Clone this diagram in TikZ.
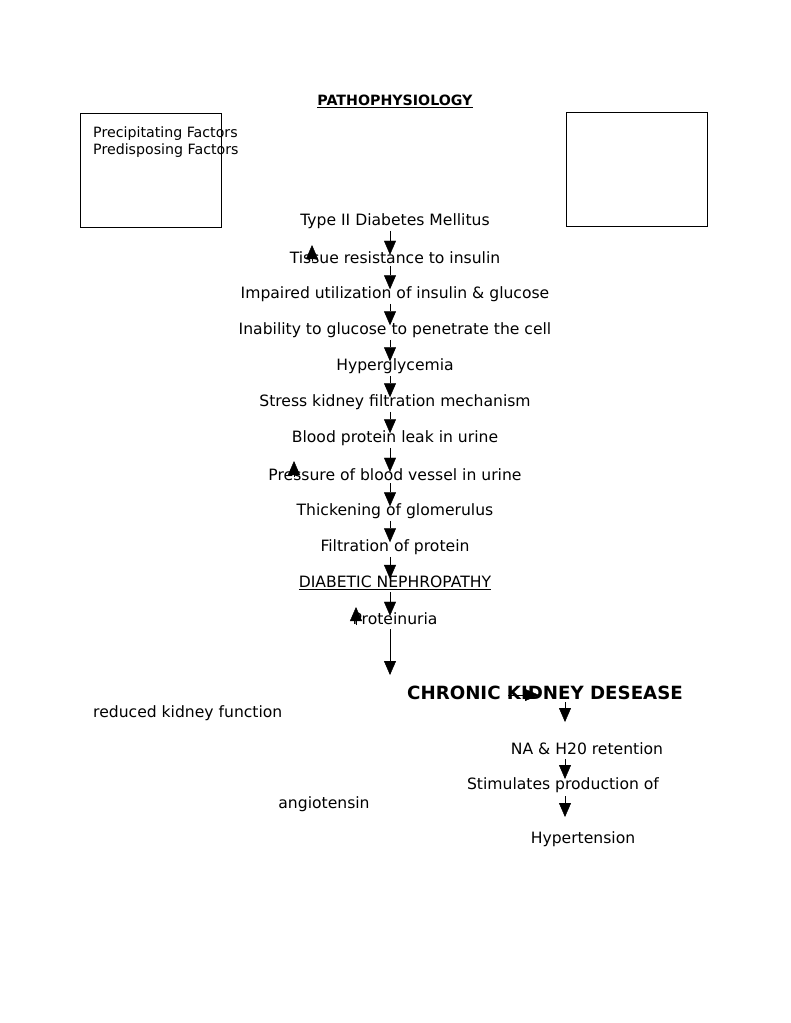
\documentclass[tikz,border=0pt]{standalone}
\usepackage{fontspec}
\setmainfont{DejaVu Sans}
\usetikzlibrary{arrows.meta}
\tikzset{
  txt/.style={inner sep=0pt,font=\fontsize{15.6}{18}\selectfont},
  arr/.style={-{Triangle[width=12pt,length=14pt]}},
  box/.style={draw,line width=0.6pt}
}
\begin{document}
\begin{tikzpicture}[x=1pt,y=-1pt]
  \useasboundingbox (0,0) rectangle (791,1023);
  \node[txt,font=\bfseries\fontsize{14.2}{16}\selectfont] (title) at (395,101) {\underline{PATHOPHYSIOLOGY}};
  \draw[box] (80,113) rectangle (221,227);
  \draw[box] (566,112) rectangle (707,226);
  \node[txt,anchor=north west,align=left,font=\fontsize{14.2}{17}\selectfont] (fac) at (93,127) {Precipitating Factors\\Predisposing Factors};
  % main chain
  \node[txt] (t1) at (395,221) {Type II Diabetes Mellitus};
  \node[txt] (t2) at (395,258) {Tissue resistance to insulin};
  \node[txt] (t3) at (395,294) {Impaired utilization of insulin \& glucose};
  \node[txt] (t4) at (395,330) {Inability to glucose to penetrate the cell};
  \node[txt] (t5) at (395,366) {Hyperglycemia};
  \node[txt] (t6) at (395,402) {Stress kidney filtration mechanism};
  \node[txt] (t7) at (395,438) {Blood protein leak in urine};
  \node[txt] (t8) at (395,475) {Pressure of blood vessel in urine};
  \node[txt] (t9) at (395,511) {Thickening of glomerulus};
  \node[txt] (t10) at (395,547) {Filtration of protein};
  \node[txt] (t11) at (395,583) {\underline{DIABETIC NEPHROPATHY}};
  \node[txt] (t12) at (395,619) {Proteinuria};
  \foreach \a/\b in {t1/t2,t2/t3,t3/t4,t4/t5,t5/t6,t6/t7,t7/t8,t8/t9,t9/t10,t10/t11,t11/t12}
    \draw[arr] ([yshift=-2pt]\a.south -| 390,0) -- ([yshift=-3pt]\b.north -| 390,0);
  % up arrows
  \coordinate (u1a) at (312,261); \coordinate (u1b) at (312,245);
  \coordinate (u2a) at (294,477); \coordinate (u2b) at (294,461);
  \coordinate (u3a) at (356,625); \coordinate (u3b) at (356,607);
  \draw[arr] (u1a) -- (u1b);
  \draw[arr] (u2a) -- (u2b);
  \draw[arr] (u3a) -- (u3b);
  % kidney disease
  \node[txt,font=\bfseries\fontsize{18.2}{20}\selectfont] (ckd) at (545,693) {CHRONIC KIDNEY DESEASE};
  \draw[arr] ([yshift=-4pt]t12.south -| 390,0) -- (390,675);
  \coordinate (h1) at (508,695); \coordinate (h2) at (539,695);
  \draw[arr] (h1) -- (h2);
  \node[txt,anchor=west] (red) at (93,713) {reduced kidney function};
  \node[txt] (na) at (587,749) {NA \& H20 retention};
  \node[txt] (sti) at (563,785) {Stimulates production of};
  \node[txt] (ang) at (324,804) {angiotensin};
  \node[txt] (hyp) at (583,839) {Hypertension};
  \draw[arr] (565,702) -- (565,722);
  \draw[arr] (565,759) -- (565,779);
  \draw[arr] (565,796) -- (565,817);
\end{tikzpicture}
\end{document}
